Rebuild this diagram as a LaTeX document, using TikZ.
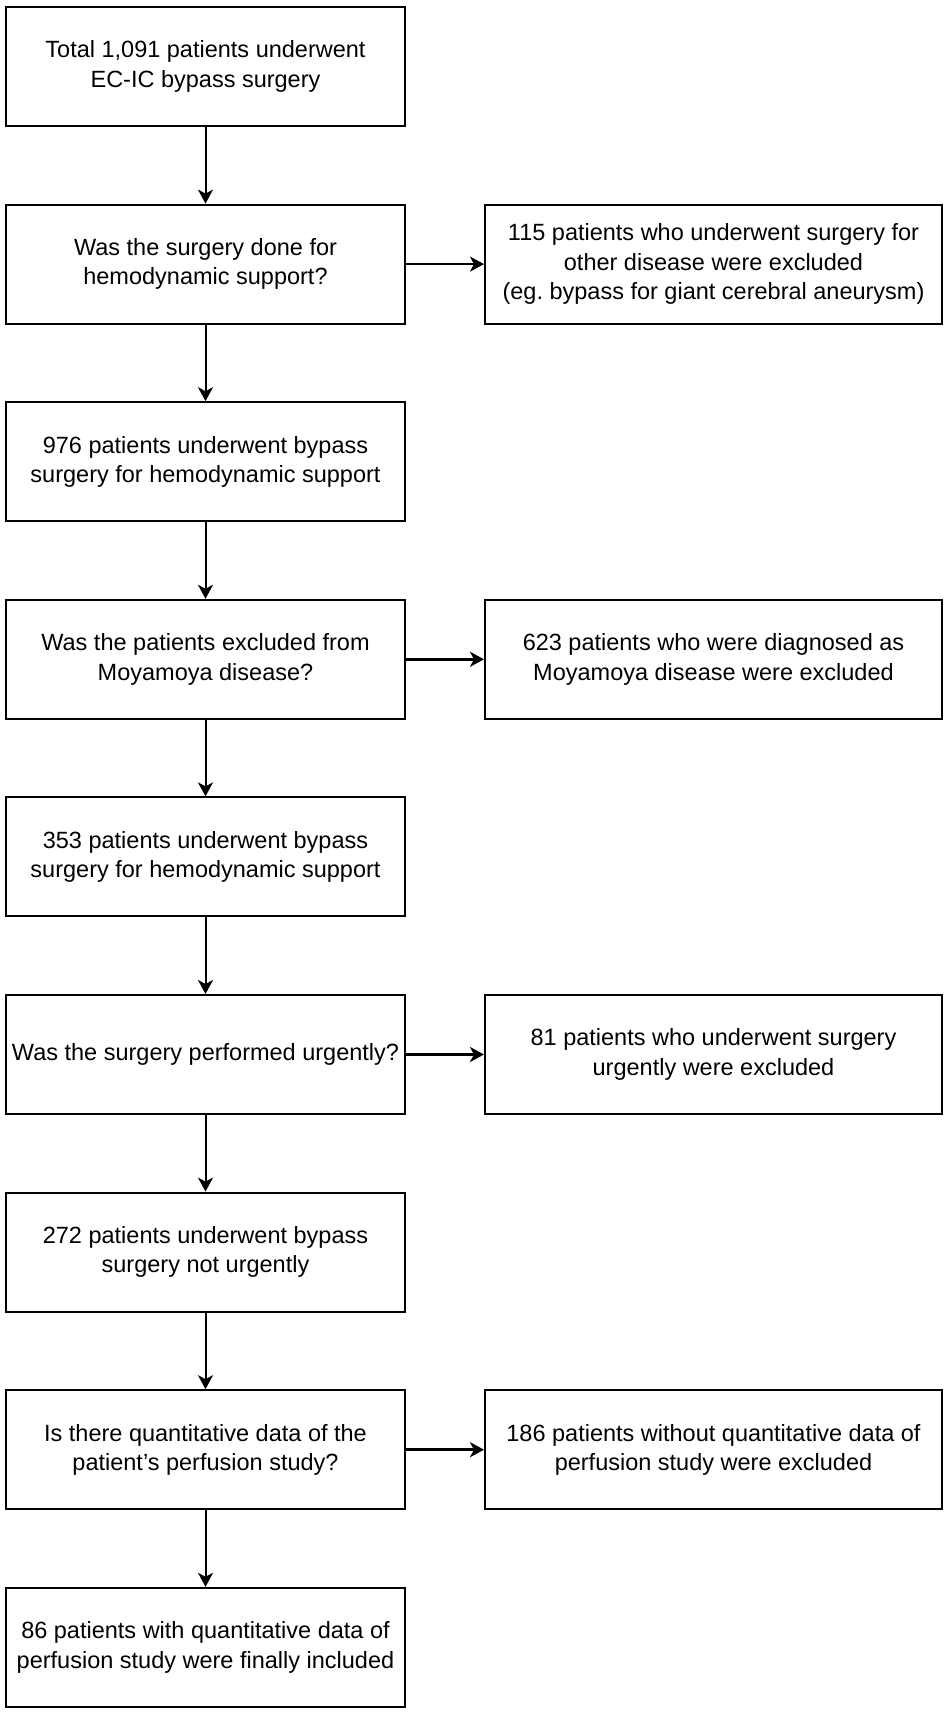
\documentclass[tikz,border=0pt]{standalone}
\usepackage{fontspec}
\setmainfont{Liberation Sans}
\usetikzlibrary{arrows.meta}
\frenchspacing
\begin{document}
\begin{tikzpicture}[x=1pt,y=-1pt,
  box/.style={draw=black, line width=2pt, minimum height=119pt, inner sep=0pt, align=center,
    font=\fontsize{23.5}{29.5}\selectfont},
  lbox/.style={box, minimum width=399pt},
  rbox/.style={box, minimum width=457pt},
  arr/.style={line width=2pt, -{Stealth[length=14pt,width=15pt,inset=4pt]}},
  harr/.style={line width=2.6pt, -{Stealth[length=14pt,width=15pt,inset=4pt]}}]
\useasboundingbox (0,0) rectangle (944,1714);
\def\L{205.5}
\def\R{713.5}
\node[lbox] (b0) at (\L,66.5) {Total 1,091 patients underwent\\EC-IC bypass surgery};
\node[lbox] (b1) at (\L,264.1) {Was the surgery done for\\hemodynamic support?};
\node[rbox] (r1) at (\R,264.1) {115 patients who underwent surgery for\\other disease were excluded\\(eg. bypass for giant cerebral aneurysm)};
\node[lbox] (b2) at (\L,461.7) {976 patients underwent bypass\\surgery for hemodynamic support};
\node[lbox] (b3) at (\L,659.3) {Was the patients excluded from\\Moyamoya disease?};
\node[rbox] (r3) at (\R,659.3) {623 patients who were diagnosed as\\Moyamoya disease were excluded};
\node[lbox] (b4) at (\L,856.9) {353 patients underwent bypass\\surgery for hemodynamic support};
\node[lbox] (b5) at (\L,1054.5) {Was the surgery performed urgently?};
\node[rbox] (r5) at (\R,1054.5) {81 patients who underwent surgery\\urgently were excluded};
\node[lbox] (b6) at (\L,1252.1) {272 patients underwent bypass\\surgery not urgently};
\node[lbox] (b7) at (\L,1449.7) {Is there quantitative data of the\\patient's perfusion study?};
\node[rbox] (r7) at (\R,1449.7) {186 patients without quantitative data of\\perfusion study were excluded};
\node[lbox] (b8) at (\L,1647.3) {86 patients with quantitative data of\\perfusion study were finally included};
\foreach \a/\b in {b0/b1,b1/b2,b2/b3,b3/b4,b4/b5,b5/b6,b6/b7,b7/b8}
  \draw[arr] (\a.south) -- (\b.north);
\foreach \a/\b in {b1/r1,b3/r3,b5/r5,b7/r7}
  \draw[harr] (\a.east) -- (\b.west);
\end{tikzpicture}
\end{document}
